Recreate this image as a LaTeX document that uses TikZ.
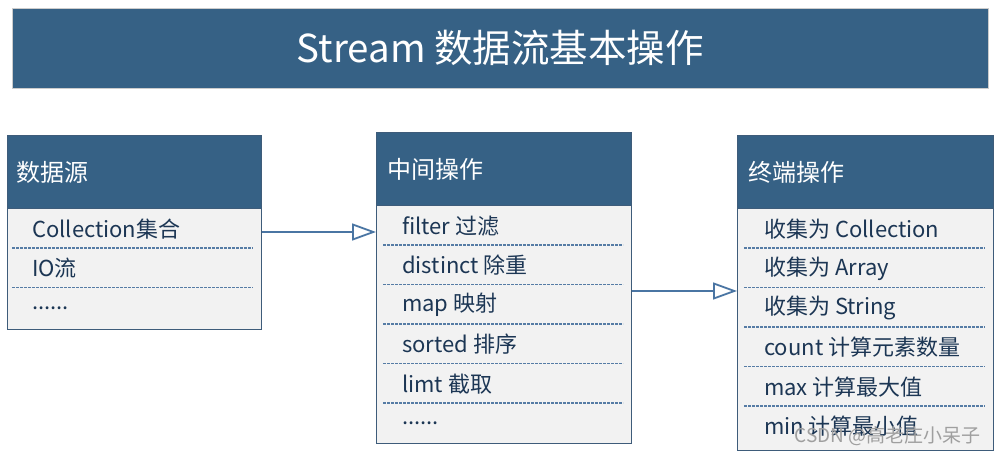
\documentclass[tikz,border=0pt]{standalone}
\usepackage{fontspec}
\setmainfont{Noto Sans CJK SC}
\usepackage{tikz}
\usepackage{xcolor}
\usetikzlibrary{arrows.meta}

\definecolor{headblue}{RGB}{54,97,133}
\definecolor{frameblue}{RGB}{62,92,122}
\definecolor{bodygray}{RGB}{242,242,242}
\definecolor{textblue}{RGB}{28,54,84}
\definecolor{dashblue}{RGB}{86,124,165}
\definecolor{arrowblue}{RGB}{74,117,163}

\newcommand{\moredots}{......}

\begin{document}
\begin{tikzpicture}[x=1pt,y=-1pt]
    % Style definitions
    \tikzset{
        headbox/.style={fill=headblue, draw=frameblue, line width=1pt, anchor=north west, minimum height=73pt, inner sep=0pt},
        bodybox/.style={fill=bodygray, draw=frameblue, line width=1.3pt, anchor=north west, inner sep=0pt},
        headtext/.style={white, anchor=west, inner sep=0pt, font=\fontsize{24}{28}\selectfont},
        itemtext/.style={textblue, anchor=west, inner sep=0pt, font=\fontsize{22}{26}\selectfont},
        sepline/.style={dashblue, line width=1.6pt, dash pattern=on 2.6pt off 1.4pt},
        flow/.style={arrowblue, line width=1.8pt, -{Triangle[open, length=24pt, width=17pt]}}
    }
    \useasboundingbox (0,0) rectangle (996,454);

    % ==========================================
    % TITLE BAR
    % ==========================================
    \node[fill=headblue, draw=gray!40, line width=0.6pt, anchor=north west, minimum width=976pt, minimum height=80pt, inner sep=0pt] (bar) at (12,8) {};
    \node[white, font=\fontsize{38.5}{44}\selectfont] (title) at (bar.center) {Stream 数据流基本操作};

    % ==========================================
    % SOURCE BOX (left)
    % ==========================================
    \node[bodybox, minimum width=254pt, minimum height=121pt] (srcbody) at (7,208) {};
    \node[headbox, minimum width=254pt] (srchead) at (7,135) {};
    \node[headtext] (srctitle) at ([xshift=9pt]srchead.west) {数据源};
    \foreach \txt [count=\i] in {Collection集合, IO流, \moredots}
        \node[itemtext] (src-\i) at (32, {229+(\i-1)*39.5}) {\txt};
    \foreach \i in {1,2}
        \draw[sepline] (12, {248+(\i-1)*39.5}) -- (253, {248+(\i-1)*39.5});

    % ==========================================
    % INTERMEDIATE BOX (middle)
    % ==========================================
    \node[bodybox, minimum width=255pt, minimum height=238pt] (midbody) at (376,205) {};
    \node[headbox, minimum width=255pt] (midhead) at (376,132) {};
    \node[headtext] (midtitle) at ([xshift=11pt]midhead.west) {中间操作};
    \foreach \txt [count=\i] in {filter 过滤, distinct 除重, map 映射, sorted 排序, limt 截取, \moredots}
        \node[itemtext] (mid-\i) at (402, {226+(\i-1)*39.5}) {\txt};
    \foreach \i in {1,...,5}
        \draw[sepline] (383, {245+(\i-1)*39.5}) -- (623, {245+(\i-1)*39.5});

    % ==========================================
    % TERMINAL BOX (right)
    % ==========================================
    \node[bodybox, minimum width=256pt, minimum height=242pt] (endbody) at (737,208) {};
    \node[headbox, minimum width=256pt] (endhead) at (737,135) {};
    \node[headtext] (endtitle) at ([xshift=11pt]endhead.west) {终端操作};
    \foreach \txt [count=\i] in {收集为 Collection, 收集为 Array, 收集为 String, count 计算元素数量, max 计算最大值, min 计算最小值}
        \node[itemtext] (end-\i) at (764, {229+(\i-1)*39.5}) {\txt};
    \foreach \i in {1,...,5}
        \draw[sepline] (744, {248+(\i-1)*39.5}) -- (985, {248+(\i-1)*39.5});

    % Arrows between boxes
    \coordinate (hop1) at (0,232);
    \coordinate (hop2) at (0,291);
    \draw[flow] (srcbody.east |- hop1) -- (midbody.west |- hop1);
    \draw[flow] (midbody.east |- hop2) -- (endbody.west |- hop2);

    % watermark
    \node[gray!75, anchor=east, font=\fontsize{19}{22}\selectfont] (mark) at (984,436) {CSDN @高老庄小呆子};
\end{tikzpicture}
\end{document}
